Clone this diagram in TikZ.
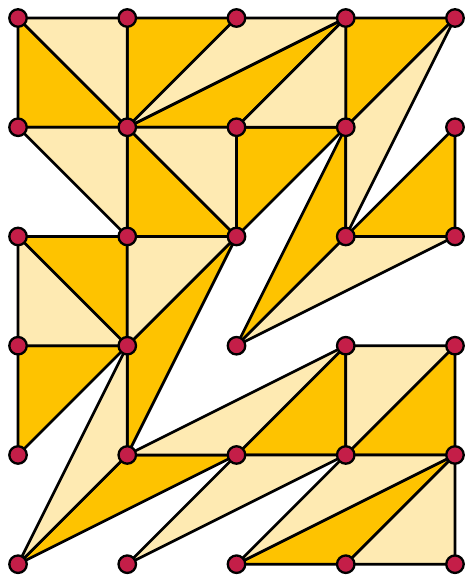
\documentclass[tikz,border=0pt]{standalone}
\usepackage{xcolor}
\usepackage{tikz}
\usetikzlibrary{
  positioning,
  calc
}
\definecolor{darkgold}{RGB}{254,195,0}
\definecolor{lightgold}{RGB}{254,234,178}
\definecolor{vertexred}{RGB}{196,30,72}

\begin{document}
\begin{tikzpicture}[
  tri/.style={draw=black,line width=0.7pt,line join=round},
  dk/.style={tri,fill=darkgold},
  lt/.style={tri,fill=lightgold},
  vertex/.style={circle,draw=black,line width=0.6pt,fill=vertexred,
    inner sep=0pt,minimum size=0.16cm}
]
  \useasboundingbox (-0.165,-0.172) rectangle (4.174,5.165);

  \foreach \i in {0,...,4}
    \foreach \j in {0,...,5}
      \coordinate (p\i\j) at (\i,5-\j);

  \foreach \a/\b/\c in {00/01/11, 10/20/11, 11/30/21, 30/40/31, 11/12/22,
      21/31/22, 31/32/23, 32/41/42, 02/12/13, 22/13/14, 03/13/04,
      14/05/24, 24/33/34, 43/34/44, 25/44/35}
    \filldraw[dk] (p\a)--(p\b)--(p\c)--cycle;

  \foreach \a/\b/\c in {00/10/11, 20/30/11, 21/30/31, 31/40/32, 01/11/12,
      11/21/22, 23/32/42, 02/03/13, 12/22/13, 13/14/05, 14/24/33,
      33/43/34, 24/34/15, 25/34/44, 35/44/45}
    \filldraw[lt] (p\a)--(p\b)--(p\c)--cycle;

  \foreach \i in {0,...,4}
    \foreach \j in {0,...,5}
      \node[vertex] (v\i\j) at (p\i\j) {};
\end{tikzpicture}
\end{document}
